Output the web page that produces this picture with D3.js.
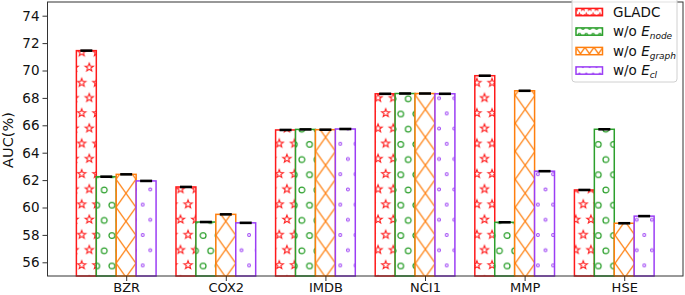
<!DOCTYPE html>
<html>
<head>
<meta charset="utf-8">
<script src="https://cdn.jsdelivr.net/npm/d3@7"></script>
<style>
body { margin: 0; background: #fff; }
svg { display: block; font-family: "DejaVu Sans", sans-serif; }
</style>
</head>
<body>
<svg width="685" height="295"></svg>
<script>
// data
const categories = ["BZR", "COX2", "IMDB", "NCI1", "MMP", "HSE"]
const gladc   = [71.45, 61.5, 65.66, 68.3, 69.62, 61.28]
const woNode  = [62.25, 58.94, 65.7, 68.32, 58.92, 65.71]
const woGraph = [62.42, 59.5, 65.68, 68.32, 68.52, 58.85]
const woCl    = [61.94, 58.88, 65.73, 68.3, 62.65, 59.37]
const yTicks  = [56, 58, 60, 62, 64, 66, 68, 70, 72, 74]

const series = [
	{name: "GLADC", sub: null, values: gladc, color: "#ff1a1a", hatch: "star"},
	{name: "w/o ", sub: "node", values: woNode, color: "#2ca02c", hatch: "circle"},
	{name: "w/o ", sub: "graph", values: woGraph, color: "#ff7f0e", hatch: "cross"},
	{name: "w/o ", sub: "cl", values: woCl, color: "#9b3ef5", hatch: "dot"}
]

const svg = d3.select("svg")
const defs = svg.append("defs")

const barW = 0.2

const x = d3.scaleLinear()
	.domain([-0.79, 5.59])
	.range([47.5, 683])

const y = d3.scaleLinear()
	.domain([55, 75])
	.range([276, 2])

//star path
function starPath(r1, r2) {
	let pts = []
	for (let k = 0; k < 10; k++) {
		let a = -Math.PI / 2 + k * Math.PI / 5
		let r = k % 2 == 0 ? r1 : r2
		pts.push([r * Math.cos(a), r * Math.sin(a)])
	}
	return "M" + pts.map(p => p[0].toFixed(2) + "," + p[1].toFixed(2)).join("L") + "Z"
}

//hatch patterns, s = scale (legend uses smaller ones)
function makePattern(id, kind, color, s, ox, oy) {
	if (kind == "cross") {
		const W = 19.96 * s, H = 28 * s
		const p = defs.append("pattern")
			.attr("id", id)
			.attr("patternUnits", "userSpaceOnUse")
			.attr("x", ox).attr("y", oy)
			.attr("width", W).attr("height", H)
		p.append("rect").attr("width", W).attr("height", H).attr("fill", "#fff")
		p.append("path")
			.attr("d", `M0,0L${W},${H}M${W},0L0,${H}`)
			.attr("stroke", color)
			.attr("stroke-width", 1.3)
		return
	}
	const W = 15.2 * s, H = 30.4 * s
	const p = defs.append("pattern")
		.attr("id", id)
		.attr("patternUnits", "userSpaceOnUse")
		.attr("x", ox).attr("y", oy)
		.attr("width", W).attr("height", H)
	p.append("rect").attr("width", W).attr("height", H).attr("fill", "#fff")
	const spots = [[0, 0], [W, 0], [0, H], [W, H], [W / 2, H / 2]]
	spots.forEach(sp => {
		if (kind == "star") {
			p.append("path")
				.attr("transform", `translate(${sp[0]},${sp[1]})`)
				.attr("d", starPath(4.3 * s, 1.8 * s))
				.attr("fill", "none")
				.attr("stroke", color)
				.attr("stroke-width", 1.1)
		} else if (kind == "circle") {
			p.append("circle")
				.attr("cx", sp[0]).attr("cy", sp[1])
				.attr("r", 2.9 * s)
				.attr("fill", "none")
				.attr("stroke", color)
				.attr("stroke-width", 1.2)
		} else {
			p.append("circle")
				.attr("cx", sp[0]).attr("cy", sp[1])
				.attr("r", 1.4 * s)
				.attr("fill", "none")
				.attr("stroke", color)
				.attr("stroke-width", 1)
		}
	})
}

const offsets = {star: [81.7, 52.3], circle: [104.3, 190], cross: [116, 179.3], dot: [644.3, 235]}
series.forEach((s, i) => {
	makePattern("pat" + i, s.hatch, s.color, 1, offsets[s.hatch][0], offsets[s.hatch][1])
})

//bars
series.forEach((s, i) => {
	const g = svg.append("g").attr("class", "series")
	g.selectAll("rect")
		.data(s.values)
		.enter()
		.append("rect")
		.attr("x", (d, j) => x(j + (i - 2.5) * barW))
		.attr("width", x(barW) - x(0))
		.attr("y", d => y(d))
		.attr("height", d => y(55) - y(d))
		.attr("fill", `url(#pat${i})`)
		.attr("stroke", s.color)
		.attr("stroke-width", 1.5)

	//error caps
	g.selectAll("line.cap")
		.data(s.values)
		.enter()
		.append("line")
		.attr("class", "cap")
		.attr("x1", (d, j) => x(j + (i - 2) * barW) - 6)
		.attr("x2", (d, j) => x(j + (i - 2) * barW) + 6)
		.attr("y1", d => y(d))
		.attr("y2", d => y(d))
		.attr("stroke", "#000")
		.attr("stroke-width", 2.6)
})

//axes
const yAxis = svg.append("g")
	.attr("transform", `translate(${x.range()[0]},0)`)
	.call(d3.axisLeft(y).tickValues(yTicks).tickSize(5).tickPadding(3))
yAxis.select(".domain").remove()
yAxis.selectAll("text").attr("font-size", 13.5).attr("fill", "#111").attr("font-family", "DejaVu Sans")
yAxis.selectAll("line").attr("stroke", "#333")

const xAxis = svg.append("g")
	.attr("transform", `translate(0,${y.range()[0]})`)
	.call(d3.axisBottom(x).tickValues(d3.range(categories.length)).tickFormat(i => categories[i]).tickSize(5).tickPadding(1.5))
xAxis.select(".domain").remove()
xAxis.selectAll("text").attr("font-size", 13).attr("fill", "#111").attr("font-family", "DejaVu Sans")
xAxis.selectAll("line").attr("stroke", "#333")

//frame
svg.append("rect")
	.attr("x", x.range()[0])
	.attr("y", y.range()[1])
	.attr("width", x.range()[1] - x.range()[0])
	.attr("height", y.range()[0] - y.range()[1])
	.attr("fill", "none")
	.attr("stroke", "#333")
	.attr("stroke-width", 1)

svg.append("text")
	.attr("transform", "translate(13,140) rotate(-90)")
	.attr("text-anchor", "middle")
	.attr("font-size", 14.5)
	.attr("fill", "#111")
	.text("AUC(%)")

//legend
const legend = svg.append("g")
legend.append("rect")
	.attr("x", 572).attr("y", -4)
	.attr("width", 105).attr("height", 86)
	.attr("rx", 3)
	.attr("fill", "#fff")
	.attr("fill-opacity", 0.85)
	.attr("stroke", "#d0d0d0")

series.forEach((s, i) => {
	const cy = 12 + i * 19.5
	makePattern("leg" + i, s.hatch, s.color, 0.45, 576, cy - 3.6)
	legend.append("rect")
		.attr("x", 576).attr("y", cy - 3.6)
		.attr("width", 26.5).attr("height", 7.3)
		.attr("fill", `url(#leg${i})`)
		.attr("stroke", s.color)
		.attr("stroke-width", 1.5)
	const t = legend.append("text")
		.attr("x", 613).attr("y", cy + 4.5)
		.attr("font-size", 13.5)
		.attr("fill", "#111")
	t.append("tspan").text(s.name)
	if (s.sub) {
		t.append("tspan").attr("font-style", "italic").text("E")
		t.append("tspan").attr("font-style", "italic").attr("font-size", 9).attr("dy", 3).text(s.sub)
	}
})
</script>
</body>
</html>
